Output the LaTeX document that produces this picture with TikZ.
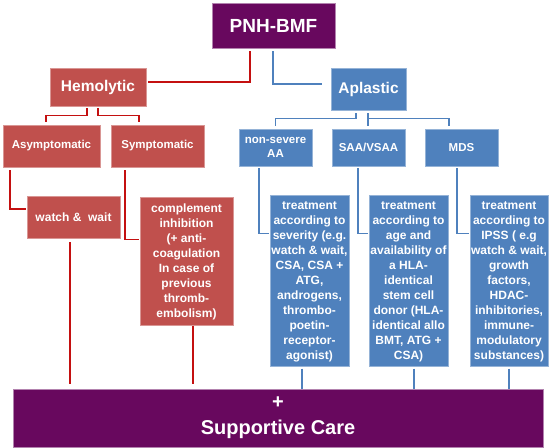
\documentclass[tikz,border=0pt]{standalone}
\usepackage{fontspec}
\setmainfont{Liberation Sans}
\definecolor{pnhpurple}{RGB}{104,8,94}
\definecolor{hemored}{RGB}{192,80,77}
\definecolor{aplblue}{RGB}{79,129,189}
\definecolor{redline}{RGB}{196,16,16}
\tikzset{
  box/.style={inner sep=0pt, align=center, text=white, font=\bfseries, line width=0.6pt},
  redbox/.style={box, fill=hemored, draw=hemored!60!white},
  bluebox/.style={box, fill=aplblue, draw=aplblue!60!white},
  purplebox/.style={box, fill=pnhpurple, draw=pnhpurple!50!white},
  redwire/.style={draw=redline, line width=1.6pt},
  bluewire/.style={draw=aplblue, line width=1.6pt},
  small/.style={font=\fontsize{12}{15}\selectfont\bfseries}
}
\begin{document}
\begin{tikzpicture}[x=1pt,y=-1pt]%PNH-BMF therapy
\useasboundingbox (0,0) rectangle (553,447);
\node[purplebox, minimum width=123pt, minimum height=45pt, font=\fontsize{19}{22}\selectfont\bfseries] (pnh) at (273.5,25.5) {PNH-BMF};
\node[redbox, minimum width=96pt, minimum height=38pt, font=\fontsize{15.5}{18}\selectfont\bfseries] (hemo) at (98,87) {Hemolytic};
\node[bluebox, minimum width=75pt, minimum height=42pt, font=\fontsize{15.5}{18}\selectfont\bfseries] (aplas) at (368.5,89) {Aplastic};
\node[redbox, small, minimum width=97pt, minimum height=42pt, font=\fontsize{11.5}{14}\selectfont\bfseries] (asym) at (51.5,146) {Asymptomatic};
\node[redbox, small, minimum width=93pt, minimum height=42pt, font=\fontsize{11.5}{14}\selectfont\bfseries] (sym) at (157.5,146) {Symptomatic};
\node[bluebox, small, minimum width=73pt, minimum height=37pt, font=\fontsize{11.5}{14}\selectfont\bfseries] (nsaa) at (275.5,147.5) {non-severe\\AA};
\node[bluebox, small, minimum width=73pt, minimum height=37pt, font=\fontsize{11.5}{14}\selectfont\bfseries] (saa) at (368.5,147.5) {SAA/VSAA};
\node[bluebox, small, minimum width=73pt, minimum height=37pt, font=\fontsize{11.5}{14}\selectfont\bfseries] (mds) at (461.5,147.5) {MDS};
\node[redbox, small, minimum width=93pt, minimum height=42pt] (ww) at (73.5,217) {watch \&\ \ wait};
\node[redbox, small, minimum width=93pt, minimum height=128pt, anchor=north] (compl) at (186.5,197) {\rule{0pt}{10pt}complement\\inhibition\\(+ anti-\\coagulation\\In case of\\previous\\thromb-\\embolism)};
\node[bluebox, small, minimum width=79pt, minimum height=171pt, anchor=north] (treat1) at (309.5,195) {\rule{0pt}{10pt}treatment\\according to\\severity (e.g.\\watch \& wait,\\CSA, CSA +\\ATG,\\androgens,\\thrombo-\\poetin-\\receptor-\\agonist)};
\node[bluebox, small, minimum width=79pt, minimum height=171pt, anchor=north] (treat2) at (408.5,195) {\rule{0pt}{10pt}treatment\\according to\\age and\\availability of\\a HLA-\\identical\\stem cell\\donor (HLA-\\identical allo\\BMT, ATG +\\CSA)};
\node[bluebox, small, minimum width=78pt, minimum height=171pt, anchor=north] (treat3) at (509,195) {\rule{0pt}{10pt}treatment\\according to\\IPSS ( e.g\\watch \& wait,\\growth\\factors,\\HDAC-\\inhibitories,\\immune-\\modulatory\\substances)};
\node[purplebox, minimum width=530pt, minimum height=58pt, font=\fontsize{20}{26}\selectfont\bfseries] (care) at (278,418) {+\\Supportive Care};
\draw[redwire, shorten <=3pt, shorten >=2pt] ([xshift=-23.5pt]pnh.south) |- ([yshift=5pt]hemo.east);
\draw[bluewire, shorten <=3pt, shorten >=9pt] ([xshift=-0.5pt]pnh.south) |- ([yshift=5pt]aplas.west);
\draw[redwire, shorten <=2pt, shorten >=3pt] ([xshift=-11pt]hemo.south) -- ++(0,9) -| ([xshift=-5.5pt]asym.north);
\draw[redwire, shorten <=2pt, shorten >=3pt] (hemo.south) -- ++(0,9) -| ([xshift=-18.5pt]sym.north);
\draw[bluewire, shorten <=3pt, shorten >=3pt] ([xshift=-12.5pt]aplas.south) -- ++(0,8) -| (nsaa.north);
\draw[bluewire, shorten <=3pt, shorten >=3pt] ([xshift=-0.5pt]aplas.south) -- ++(0,8) -| ([xshift=-12.5pt]mds.north);
\draw[bluewire, shorten <=3pt, shorten >=3pt] ([xshift=-0.5pt]aplas.south) -- ([xshift=-0.5pt]saa.north);
\draw[redwire, shorten <=3pt, shorten >=1pt] ([xshift=-41.5pt]asym.south) |- ([yshift=8pt]ww.west);
\draw[redwire, shorten <=3pt, shorten >=1pt] ([xshift=-32.5pt]sym.south) |- ([yshift=22pt]compl.west);
\draw[bluewire, shorten <=2pt, shorten >=1pt] ([xshift=-16.5pt]nsaa.south) |- ([yshift=47.5pt]treat1.west);
\draw[bluewire, shorten <=2pt, shorten >=1pt] ([xshift=-10.5pt]saa.south) |- ([yshift=47.5pt]treat2.west);
\draw[bluewire, shorten <=2pt, shorten >=1pt] ([xshift=-4.5pt]mds.south) |- ([yshift=47.5pt]treat3.west);
\draw[redwire, shorten <=4pt, shorten >=5pt] ([xshift=-3.5pt]ww.south) -- ([xshift=-3.5pt]ww.south |- care.north);
\draw[redwire, shorten >=5pt] ([xshift=6.5pt]compl.south) -- ([xshift=6.5pt]compl.south |- care.north);
\draw[bluewire, shorten <=2pt] ([xshift=-7.5pt]treat1.south) -- ([xshift=-7.5pt]treat1.south |- care.north);
\draw[bluewire, shorten <=2pt] ([xshift=5.5pt]treat2.south) -- ([xshift=5.5pt]treat2.south |- care.north);
\draw[bluewire, shorten <=2pt] (treat3.south) -- (treat3.south |- care.north);
\end{tikzpicture}
\end{document}
